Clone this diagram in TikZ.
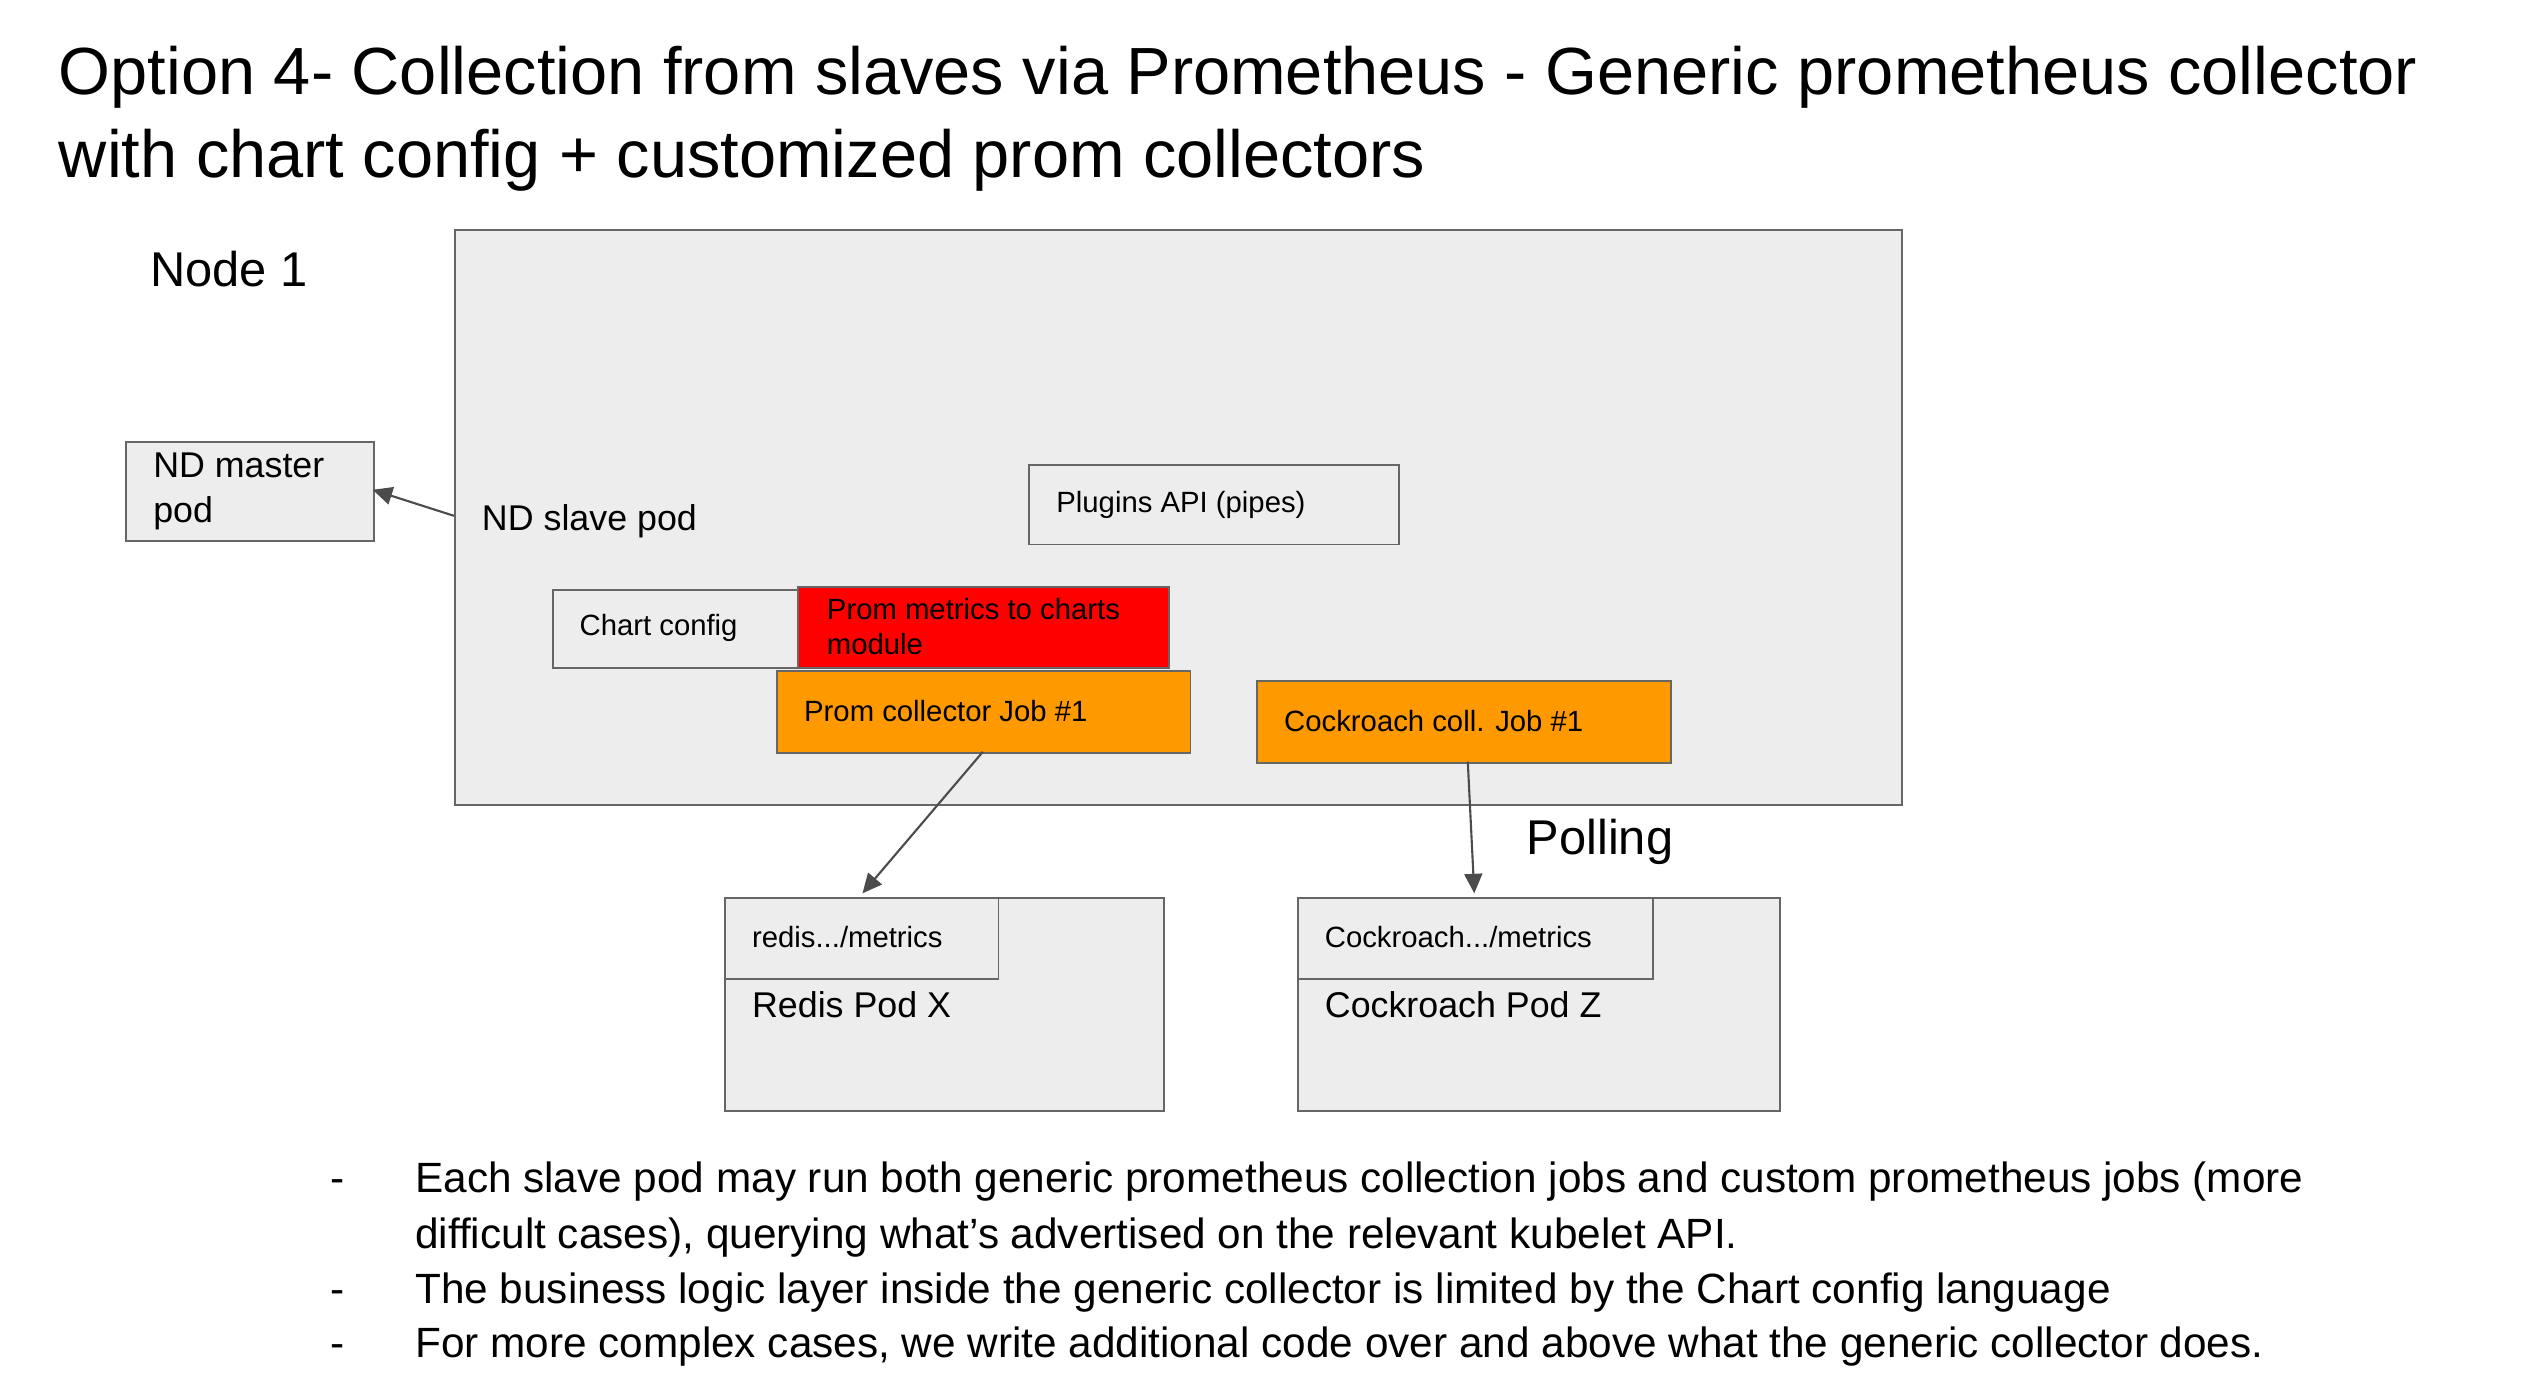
\documentclass[tikz,border=0pt]{standalone}
\usepackage{fontspec}
\setmainfont{Liberation Sans}
\usetikzlibrary{arrows.meta}
\newcommand{\fs}[2]{\fontsize{#1}{#2}\selectfont}
\begin{document}
\begin{tikzpicture}[x=1pt,y=-1pt,
  box/.style={draw=black!60,line width=1.2pt,fill=black!7,anchor=north west,inner sep=0pt},
  lbl/.style={anchor=west,align=left,inner sep=0pt,font=\fs{18}{22}},
  arr/.style={draw=black!70,line width=1.3pt,-{Triangle[length=12pt,width=11pt]}}]
\useasboundingbox (0,0) rectangle (1556,845);
\node[anchor=base west,inner sep=0pt,font=\fs{41}{49}] (t1) at (36,58) {Option 4- Collection from slaves via Prometheus - Generic prometheus collector};
\node[anchor=base west,inner sep=0pt,font=\fs{41}{49}] (t2) at (36,109) {with chart config + customized prom collectors};
\node[anchor=base west,inner sep=0pt,font=\fs{30}{36}] (n1) at (92,176) {Node 1};
\node[box,minimum width=889,minimum height=353] (slave) at (279,141) {};
\node[box,minimum width=152,minimum height=61] (master) at (77,271) {};
\node[lbl,font=\fs{22}{28}] (mt) at (94,302) {ND master\\pod};
\node[anchor=base west,inner sep=0pt,font=\fs{22}{28}] (st) at (296,326) {ND slave pod};
\coordinate (sl) at (279,317);
\coordinate (me) at (229,301);
\draw[arr] (sl) -- (me);
\node[box,minimum width=227,minimum height=49] (plug) at (632,285) {};
\node[lbl] at (649,310) {Plugins API (pipes)};
\node[box,minimum width=151,minimum height=48] (chart) at (339,362) {};
\node[lbl] at (356,386) {Chart config};
\node[box,fill=red,minimum width=228,minimum height=50] (prom) at (490,360) {};
\node[lbl] at (508,385) {Prom metrics to charts\\module};
\node[box,fill={rgb,255:red,255;green,153;blue,0},minimum width=254,minimum height=50] (pc) at (477,412) {};
\node[lbl] at (494,437) {Prom collector Job \#1};
\node[box,fill={rgb,255:red,255;green,153;blue,0},minimum width=254,minimum height=50] (cc) at (772,418) {};
\node[lbl] at (789,443) {Cockroach coll. Job \#1};
\node[anchor=base west,inner sep=0pt,font=\fs{30}{36}] (poll) at (938,525) {Polling};
\node[box,minimum width=270,minimum height=131] (redis) at (445,551) {};
\node[box,minimum width=168,minimum height=50] (rm) at (445,551) {};
\node[lbl] at (462,576) {redis.../metrics};
\node[anchor=base west,inner sep=0pt,font=\fs{22}{28}] at (462,625) {Redis Pod X};
\node[box,minimum width=296,minimum height=131] (cr) at (797,551) {};
\node[box,minimum width=218,minimum height=50] (crm) at (797,551) {};
\node[lbl] at (814,576) {Cockroach.../metrics};
\node[anchor=base west,inner sep=0pt,font=\fs{22}{28}] at (814,625) {Cockroach Pod Z};
\coordinate (p1) at (604,462);
\coordinate (p2) at (902,468);
\coordinate (a1) at (530,549);
\coordinate (a2) at (906,549);
\draw[arr] (p1) -- (a1);
\draw[arr] (p2) -- (a2);
\foreach \y/\t in {733/{Each slave pod may run both generic prometheus collection jobs and custom prometheus jobs (more},
  767/{difficult cases), querying what’s advertised on the relevant kubelet API.},
  801/{The business logic layer inside the generic collector is limited by the Chart config language},
  834/{For more complex cases, we write additional code over and above what the generic collector does.}}
  \node[anchor=base west,inner sep=0pt,font=\fs{26}{31}] at (255,\y) {\t};
\foreach \y in {733,801,834} \node[anchor=base west,inner sep=0pt,font=\fs{26}{31}] at (203,\y) {-};
\end{tikzpicture}
\end{document}
